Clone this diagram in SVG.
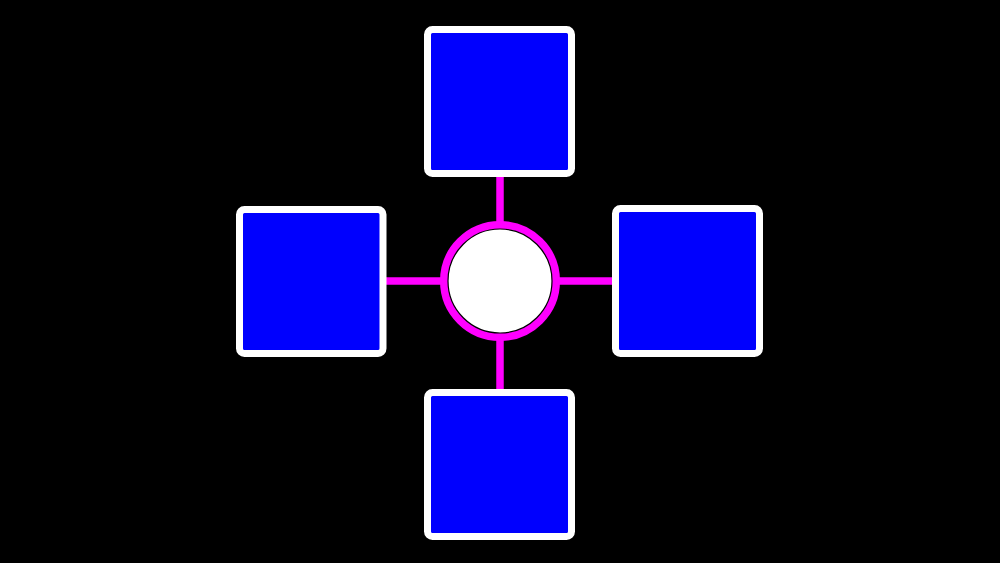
<svg xmlns="http://www.w3.org/2000/svg" width="1000" height="563" viewBox="0 0 1000 563">
<style>
.box{fill:#0000fe;stroke:#ffffff;stroke-width:7}
.conn{stroke:#ff00ff;stroke-width:7.5;fill:none}
</style>
<rect x="0" y="0" width="1000" height="563" fill="#000000"/>
<g id="connectors">
<line class="conn" x1="500" y1="176" x2="500" y2="390"/>
<line class="conn" x1="385" y1="281" x2="613" y2="281"/>
</g>
<g id="node-top"><rect class="box" x="427.5" y="29.5" width="144" height="144" rx="5"/></g>
<g id="node-left"><rect class="box" x="239.5" y="209.5" width="143.5" height="144" rx="5"/></g>
<g id="node-right"><rect class="box" x="615.5" y="208.5" width="144" height="145" rx="5"/></g>
<g id="node-bottom"><rect class="box" x="427.5" y="392.5" width="144" height="144" rx="5"/></g>
<g id="node-center">
<circle cx="500" cy="281" r="56" fill="#ffffff" stroke="#ff00ff" stroke-width="8"/>
<circle cx="500" cy="281" r="52" fill="none" stroke="#000000" stroke-width="1.2"/>
</g>
</svg>
